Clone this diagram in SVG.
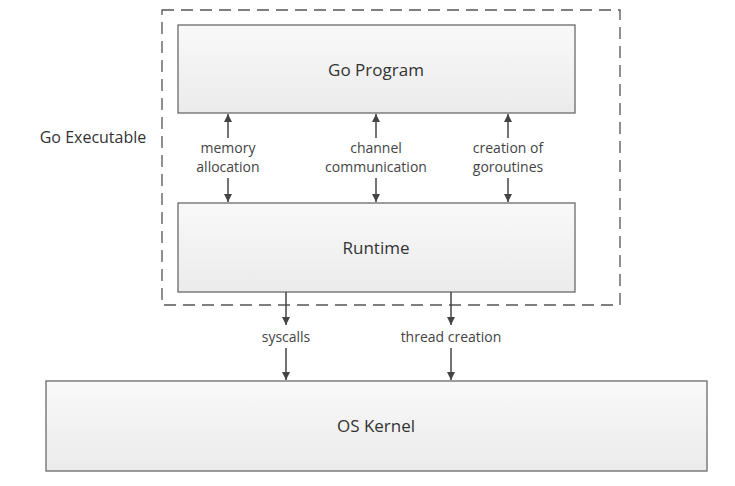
<svg xmlns="http://www.w3.org/2000/svg" width="735" height="486" viewBox="0 0 735 486">
<style>
.box{fill:url(#g);stroke:#6a6a6a;stroke-width:1.3}
.t{font-family:"Open Sans","Liberation Sans",sans-serif;font-size:17px;fill:#333;text-anchor:middle}
.l{font-family:"Open Sans","Liberation Sans",sans-serif;font-size:14px;fill:#444;text-anchor:middle}
.c{stroke:#444;stroke-width:1.5;fill:none;marker-end:url(#a)}
</style>
<defs>
<linearGradient id="g" x1="0" y1="0" x2="0" y2="1"><stop offset="0" stop-color="#f9f9f9"/><stop offset="1" stop-color="#ebebeb"/></linearGradient>
<marker id="a" viewBox="0 0 10 10" refX="10" refY="5" markerWidth="8" markerHeight="8" markerUnits="userSpaceOnUse" orient="auto"><path d="M0,0L10,5L0,10z" fill="#444"/></marker>
</defs>
<rect width="735" height="486" fill="#fff"/>
<g id="executable">
<rect x="162" y="10" width="458" height="295" fill="none" stroke="#555" stroke-width="1.3" stroke-dasharray="12,7"/>
<text x="93" y="143" class="t" style="font-size:16px">Go Executable</text>
</g>
<g id="goprogram"><rect class="box" x="178" y="25" width="397" height="88"/><text class="t" x="376" y="76">Go Program</text></g>
<g id="runtime"><rect class="box" x="178" y="203" width="397" height="89"/><text class="t" x="376" y="254">Runtime</text></g>
<g id="kernel"><rect class="box" x="46" y="381" width="661" height="90"/><text class="t" x="376" y="432">OS Kernel</text></g>
<g id="connectors">
<path class="c" d="M228,138V114"/><path class="c" d="M228,178V202"/>
<path class="c" d="M376,138V114"/><path class="c" d="M376,178V202"/>
<path class="c" d="M508,138V114"/><path class="c" d="M508,178V202"/>
<path class="c" d="M286,292V325"/><path class="c" d="M286,348V380"/>
<path class="c" d="M451,292V325"/><path class="c" d="M451,348V380"/>
<text class="l" x="228" y="153">memory</text><text class="l" x="228" y="172">allocation</text>
<text class="l" x="376" y="153">channel</text><text class="l" x="376" y="172">communication</text>
<text class="l" x="508" y="153">creation of</text><text class="l" x="508" y="172">goroutines</text>
<text class="l" x="286" y="342">syscalls</text>
<text class="l" x="451" y="342">thread creation</text>
</g>
</svg>
